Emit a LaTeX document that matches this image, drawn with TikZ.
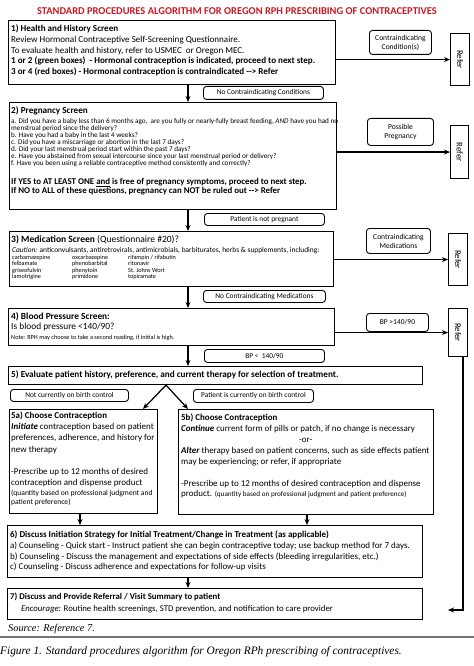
\documentclass[tikz,border=0pt]{standalone}
\usepackage{fontspec}
\setmainfont{Carlito}
\newfontfamily\capfont{Liberation Serif}
\usetikzlibrary{arrows.meta,calc}
\definecolor{titlered}{RGB}{200,25,35}
\definecolor{rulegray}{RGB}{115,115,115}
\newcommand\fsz[2]{\fontsize{#1}{#2}\selectfont}
\newcommand\arrw{{-}{-}>}
\begin{document}
\begin{tikzpicture}[x=1bp,y=-1bp,
  box/.style={draw=black,line width=1.1bp,inner sep=0,anchor=north west},
  lbl/.style={draw=black,rounded corners=3bp,line width=0.9bp,inner sep=0,align=center,anchor=north west},
  referbox/.style={draw=black,line width=1.1bp,inner sep=0,anchor=north west},
  arr/.style={line width=1.25bp,-{Stealth[length=6bp,width=5bp]}},
  txt/.style={inner sep=0,anchor=north west,align=left}]
\useasboundingbox (0,0) rectangle (474,666);
% title
\node[inner sep=0,text=titlered,font=\bfseries\fsz{10.5}{12}] (title) at (237,11) {STANDARD PROCEDURES ALGORITHM FOR OREGON RPH PRESCRIBING OF CONTRACEPTIVES};
% coordinates
\coordinate (spine) at (188,0);
\coordinate (apex) at (166,0);
\coordinate (tipA) at (143,0);
\coordinate (dropA) at (80,0);
\coordinate (dropB) at (307,0);
\coordinate (retx) at (463,0);
\coordinate (ret) at (448,610);
% ---- box 1
\node[box,minimum width=327bp,minimum height=64bp] (b1) at (8,20) {};
\node[txt,font=\fsz{9.1}{10.7}] (t1) at (11,25) {\textbf{1) Health and History Screen}\\
Review Hormonal Contraceptive Self-Screening Questionnaire.\\
To evaluate health and history, refer to USMEC\ \ or Oregon MEC.\\
\textbf{1 or 2 (green boxes)\ \ - Hormonal contraception is indicated, proceed to next step.}\\
\textbf{3 or 4 (red boxes) - Hormonal contraception is contraindicated \arrw{} Refer}};
\node[lbl,minimum width=62bp,minimum height=24bp,font=\fsz{7.6}{9}] (l1) at (369,30) {Contraindicating\\Condition(s)};
\node[referbox,minimum width=19bp,minimum height=52bp] (r1) at (450,33) {\rotatebox{-90}{\fsz{8.8}{10}Refer}};
\draw[arr] (b1.east |- r1.west) -- (r1.west);
\node[lbl,minimum width=120bp,minimum height=13bp,font=\fsz{7.4}{8.5}] (l2) at (203,86) {No Contraindicating Conditions};
% ---- box 2
\node[box,minimum width=327bp,minimum height=107bp] (b2) at (9,102) {};
\node[txt,font=\bfseries\fsz{9.2}{10}] (t2a) at (11,106.9) {2) Pregnancy Screen};
\node[txt,font=\fsz{7.2}{7.0}] (t2b) at (11,118) {a. Did you have a baby less than 6 months ago,\ \ are you fully or nearly-fully breast feeding, \textit{AND} have you had no\\
menstrual period since the delivery?\\
b. Have you had a baby in the last 4 weeks?\\
c. Did you have a miscarriage or abortion in the last 7 days?\\
d. Did your last menstrual period start within the past 7 days?\\
e. Have you abstained from sexual intercourse since your last menstrual period or delivery?\\
f. Have you been using a reliable contraceptive method consistently and correctly?};
\node[txt,font=\bfseries\fsz{8.9}{9}] (t2c) at (11,178) {If YES to AT LEAST ONE \underline{and} is free of pregnancy symptoms, proceed to next step.\\
If NO to ALL of these questions, pregnancy can NOT be ruled out \arrw{} Refer};
\node[lbl,minimum width=66bp,minimum height=27bp,font=\fsz{7.6}{9}] (l3) at (367,118) {Possible\\Pregnancy};
\node[referbox,minimum width=18bp,minimum height=53bp] (r2) at (450,125) {\rotatebox{-90}{\fsz{8.8}{10}Refer}};
\draw[arr] (b2.east |- r2.west) -- (r2.west);
\draw[arr] (b1.south -| spine) -- (b2.north -| spine);
\node[lbl,minimum width=120bp,minimum height=12bp,font=\fsz{7.4}{8.5}] (l4) at (204,213) {Patient is not pregnant};
% ---- box 3
\node[box,minimum width=324bp,minimum height=55bp] (b3) at (9,231) {};
\node[txt,font=\fsz{9.6}{10}] (t3a) at (11,235.6) {\textbf{3) Medication Screen} (Questionnaire \#20)?};
\node[txt,font=\fsz{7.45}{8}] (t3b) at (12,246.8) {\textit{Caution:} anticonvulsants, antiretrovirals, antimicrobials, barbiturates, herbs \& supplements, including:};
\node[txt,font=\fsz{6.2}{6.5}] (t3c) at (12,254.6) {\begin{tabular}{@{}p{60bp}@{}p{56bp}@{}l@{}}
carbamazepine & oxcarbazepine & rifampin / rifabutin\\
felbamate & phenobarbital & ritonavir\\
griseofulvin & phenytoin & St. Johns Wort\\
lamotrigine & primidone & topiramate
\end{tabular}};
\node[lbl,minimum width=64bp,minimum height=25bp,font=\fsz{7.6}{9}] (l5) at (366,228) {Contraindicating\\Medications};
\node[referbox,minimum width=19bp,minimum height=52bp] (r3) at (448,233) {\rotatebox{-90}{\fsz{8.8}{10}Refer}};
\draw[arr] (b3.east |- r3.west) -- (r3.west);
\draw[arr] (b2.south -| spine) -- (b3.north -| spine);
\node[lbl,minimum width=122bp,minimum height=12bp,font=\fsz{7.4}{8.5}] (l6) at (203,290) {No Contraindicating Medications};
% ---- box 4
\node[box,minimum width=326bp,minimum height=37bp] (b4) at (8,308) {};
\node[txt,font=\fsz{9.4}{10}] (t4a) at (11,312.8) {\textbf{4) Blood Pressure Screen:}\\
Is blood pressure <140/90?};
\node[txt,font=\fsz{6.3}{7}] (t4b) at (11,335.2) {Note: RPH may choose to take a second reading, if initial is high.};
\node[lbl,minimum width=62bp,minimum height=18bp,font=\fsz{7.5}{9}] (l7) at (366,313) {BP >140/90};
\node[referbox,minimum width=19bp,minimum height=48bp] (r4) at (448,308) {\rotatebox{-90}{\fsz{8.8}{10}Refer}};
\draw[arr] (b4.east |- r4.west) -- (r4.west);
\draw[arr] (b3.south -| spine) -- (b4.north -| spine);
\node[lbl,minimum width=120bp,minimum height=13bp,font=\fsz{7.4}{8.5}] (l8) at (204,349) {BP <\ \ 140/90};
% ---- box 5
\node[box,minimum width=414bp,minimum height=18bp] (b5) at (8,366) {};
\node[txt,font=\bfseries\fsz{9.2}{10}] (t5) at (11,370.9) {5) Evaluate patient history, preference, and current therapy for selection of treatment.};
\draw[arr] (b4.south -| spine) -- (b5.north -| spine);
\node[lbl,minimum width=118bp,minimum height=12bp,font=\fsz{7.4}{8.5}] (l9) at (10,389) {Not currently on birth control};
\node[lbl,minimum width=120bp,minimum height=13bp,font=\fsz{7.4}{8.5}] (l10) at (193,389) {Patient is currently on birth control};
% ---- box 5a
\node[box,minimum width=148bp,minimum height=104bp] (b5a) at (9,409) {};
\node[txt,font=\fsz{9}{11.1}] (t5a) at (11,412) {\textbf{5a) Choose Contraception}\\
\textbf{\textit{Initiate}} contraception based on patient\\
preferences, adherence, and history for\\
new therapy\\[11.1bp]
-Prescribe up to 12 months of desired\\
contraception and dispense product};
\node[txt,font=\fsz{7.6}{9.3}] (t5a2) at (11,489.6) {(quantity based on professional judgment and\\
patient preference)};
% ---- box 5b
\node[box,minimum width=255bp,minimum height=105bp] (b5b) at (178,409) {};
\node[txt,font=\fsz{9}{10.9}] (t5b) at (181,414) {\textbf{5b) Choose Contraception}\\
\textbf{\textit{Continue}} current form of pills or patch, if no change is necessary\\
\makebox[249bp]{-or-}\\
\textbf{\textit{Alter}} therapy based on patient concerns, such as side effects patient\\
may be experiencing; or refer, if appropriate\\[10.9bp]
-Prescribe up to 12 months of desired contraception and dispense\\
product. {\fsz{7.2}{9}(quantity based on professional judgment and patient preference)}};
\draw[arr] (b5.south -| apex) -- (b5a.north -| tipA);
\draw[arr] (b5.south -| apex) -- (b5b.north -| spine);
% ---- box 6
\node[box,minimum width=415bp,minimum height=52bp] (b6) at (7,525) {};
\node[txt,font=\fsz{9}{10.7}] (t6) at (10,531) {\textbf{6) Discuss Initiation Strategy for Initial Treatment/Change in Treatment (as applicable)}\\
a) Counseling - Quick start - Instruct patient she can begin contraceptive today; use backup method for 7 days.\\
b) Counseling - Discuss the management and expectations of side effects (bleeding irregularities, etc.)\\
c) Counseling - Discuss adherence and expectations for follow-up visits};
\draw[arr] (b5a.south -| dropA) -- (b6.north -| dropA);
\draw[arr] (b5b.south -| dropB) -- (b6.north -| dropB);
% ---- box 7
\node[box,minimum width=415bp,minimum height=31bp] (b7) at (7,588) {};
\node[txt,font=\fsz{8.8}{10}] (t7a) at (10,593) {\textbf{7) Discuss and Provide Referral / Visit Summary to patient}};
\node[txt,font=\fsz{8.8}{10}] (t7b) at (21,605) {\textit{Encourage:} Routine health screenings, STD prevention, and notification to care provider};
\draw[arr] (b6.south -| spine) -- (b7.north -| spine);
\draw[arr] (r4.south -| retx) |- (ret);
% ---- source and caption
\node[txt,font=\capfont\itshape\fsz{10.4}{12}] (src) at (8,623.5) {Source: Reference 7.};
\draw[rulegray,line width=1.5bp] (0,637) -- (474,637);
\node[txt,font=\capfont\itshape\fsz{11.4}{13}] (cap) at (0,646.3) {Figure 1. Standard procedures algorithm for Oregon RPh prescribing of contraceptives.};
\end{tikzpicture}
\end{document}
